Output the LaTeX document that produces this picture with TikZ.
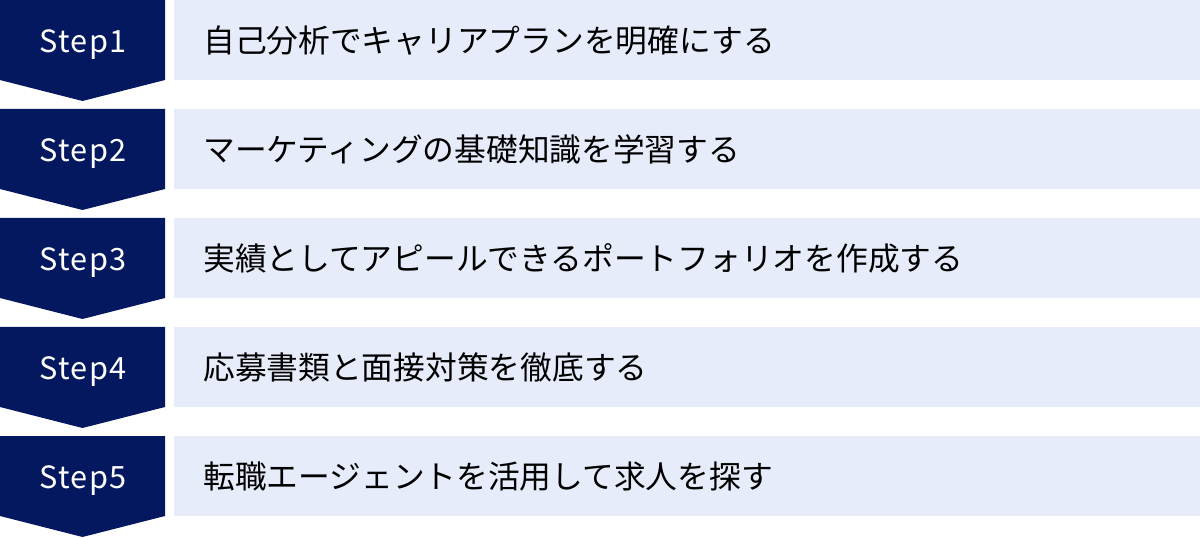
\documentclass[tikz,border=0pt]{standalone}
\usepackage{fontspec}
\setmainfont{Noto Sans}
\newfontfamily\jpfont{Noto Sans CJK JP}
\newfontfamily\stepfont[LetterSpace=5]{Noto Sans CJK JP}
\definecolor{stepnavy}{RGB}{4,24,96}
\definecolor{boxblue}{RGB}{230,236,250}
\tikzset{
	steplabel/.style={text=white,inner sep=0pt,font=\stepfont\fontsize{23pt}{27pt}\selectfont},
	stepbox/.style={fill=boxblue,anchor=north west,inner sep=0pt,minimum width=769.5pt,minimum height=60pt},
	steptext/.style={anchor=west,inner sep=0pt,text=black,font=\jpfont\fontsize{23.8pt}{28pt}\selectfont}
}
\begin{document}
\begin{tikzpicture}[x=0.75pt,y=-0.75pt]
\useasboundingbox (0,0) rectangle (1200,538);
\def\h{109}
\foreach \n/\t in {1/自己分析でキャリアプランを明確にする,2/マーケティングの基礎知識を学習する,3/実績としてアピールできるポートフォリオを作成する,4/応募書類と面接対策を徹底する,5/転職エージェントを活用して求人を探す}{
	\pgfmathsetmacro{\s}{(\n-1)*\h}
	\fill[stepnavy] (0,\s) -- (165,\s) -- (165,\s+80) -- (82.5,\s+101) -- (0,\s+80) -- cycle;
	\node[steplabel,anchor=base] (s\n) at (83,\s+52.5) {Step\n};
	\node[stepbox] (b\n) at (174,\s) {};
	\node[steptext] (t\n) at ([xshift=21.75pt]b\n.west) {\t};}
\end{tikzpicture}
\end{document}
